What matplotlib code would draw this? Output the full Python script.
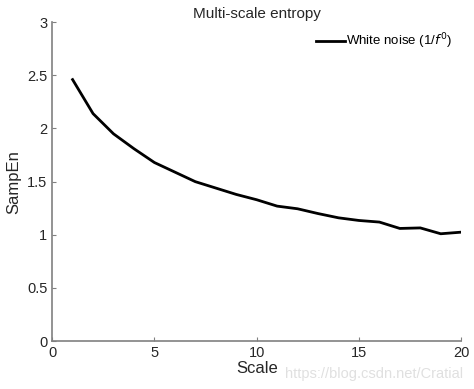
import matplotlib
matplotlib.use('Agg')
import matplotlib.pyplot as plt

plt.rcParams['font.family'] = ['Liberation Sans', 'DejaVu Sans']

# 数据
scale = list(range(1, 21))
sampen = [2.46, 2.14, 1.95, 1.81, 1.68, 1.59, 1.50, 1.44, 1.38, 1.33,
          1.27, 1.245, 1.20, 1.16, 1.135, 1.12, 1.06, 1.065, 1.01, 1.025]

fig = plt.figure(figsize=(4.74, 3.89), dpi=100)
ax = fig.add_axes([0.11, 0.123, 0.863, 0.82])
ax.plot(scale, sampen, color='k', linewidth=2, label='White noise (1/$f^0$)')

ax.set_xlim(0, 20)
ax.set_ylim(0, 3)
ax.set_xticks([0, 5, 10, 15, 20])
ax.set_yticks([0, 0.5, 1, 1.5, 2, 2.5, 3])
ax.set_yticklabels(['0', '0.5', '1', '1.5', '2', '2.5', '3'])

gray = '#808080'
for s in ['top', 'right']:
    ax.spines[s].set_visible(False)
for s in ['left', 'bottom']:
    ax.spines[s].set_color(gray)
    ax.spines[s].set_linewidth(1.2)
ax.tick_params(direction='in', length=3, color=gray, labelsize=10.5, labelcolor='#262626')

ax.set_title('Multi-scale entropy', fontsize=11, color='#262626', pad=3)
ax.set_xlabel('Scale', fontsize=12, color='#262626', labelpad=1)
ax.set_ylabel('SampEn', fontsize=12, color='#262626')

ax.legend(loc='upper right', frameon=False, fontsize=9.5, handlelength=2.2,
          handletextpad=0.1, borderaxespad=0.3)

fig.text(0.79, 0.02, 'https://blog.csdn.net/Cratial', fontsize=10.5,
         color='#e0e0e0', ha='center', va='bottom')

fig.savefig('out.png', dpi=100)
